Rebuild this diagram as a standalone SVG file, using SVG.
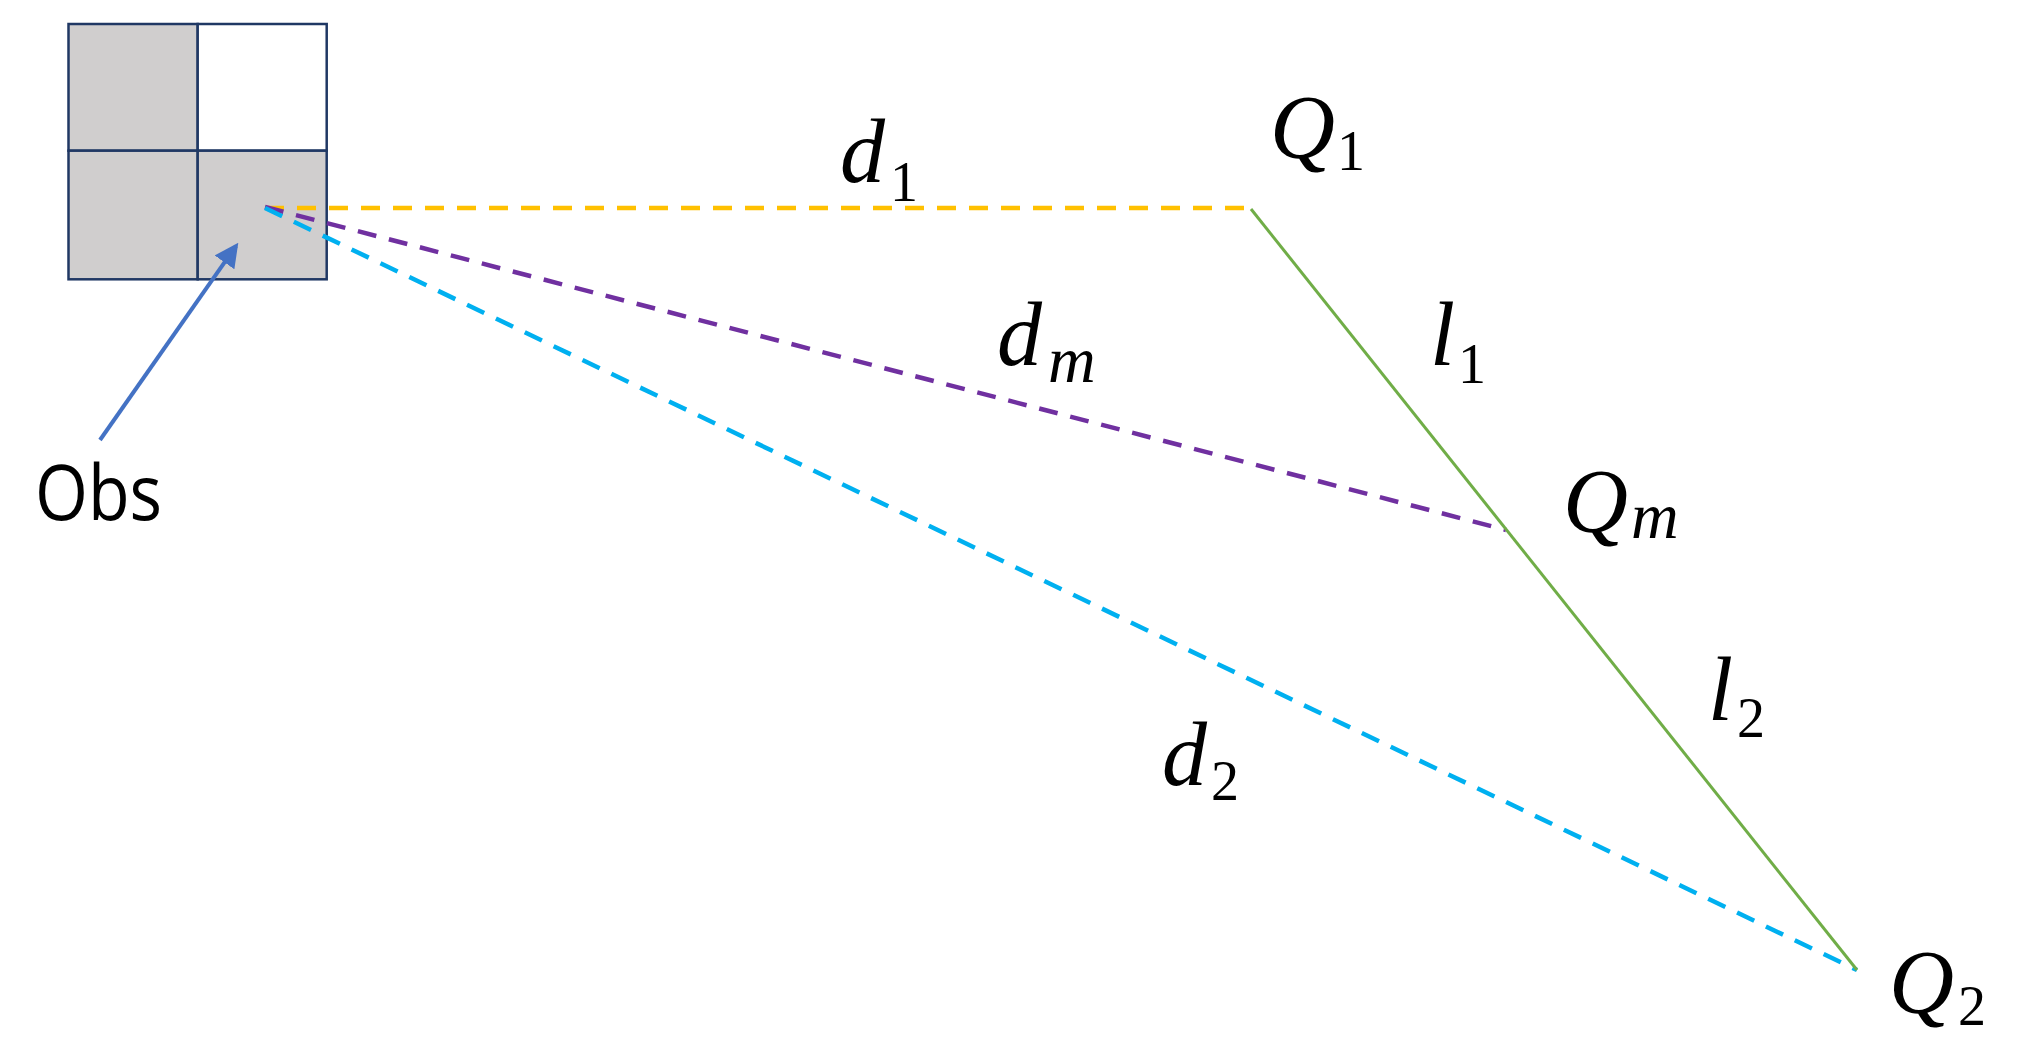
<svg xmlns="http://www.w3.org/2000/svg" width="2028" height="1048" viewBox="0 0 2028 1048">
<style>
.cell{fill:#D0CECE;stroke:#203864;stroke-width:2.5}
.white{fill:#FFFFFF}
.dash{fill:none;stroke-width:4.5;stroke-dasharray:19 13}
.m{font-family:"Liberation Serif","DejaVu Serif",serif;font-style:italic;font-size:90px;fill:#000}
.s{font-style:normal;font-size:56px}
.si{font-style:italic;font-size:66px}
</style>
<defs>
<marker id="ah" markerWidth="6" markerHeight="6" refX="5" refY="3" orient="auto" markerUnits="strokeWidth">
<path d="M0,0 L6,3 L0,6 Z" fill="#4472C4"/>
</marker>
</defs>
<rect width="2028" height="1048" fill="#FFFFFF"/>
<g id="grid">
<rect class="cell" x="68.5" y="24" width="129.2" height="126.7"/>
<rect class="cell white" x="197.7" y="24" width="129" height="126.7"/>
<rect class="cell" x="68.5" y="150.7" width="129.2" height="128.6"/>
<rect class="cell" x="197.7" y="150.7" width="129" height="128.6"/>
</g>
<g id="connectors">
<line class="dash" x1="265" y1="208" x2="1251" y2="208" stroke="#FFC000"/>
<line class="dash" x1="265" y1="207" x2="1506" y2="530" stroke="#7030A0"/>
<line class="dash" x1="265" y1="208" x2="1857" y2="970" stroke="#00B0F0"/>
<line x1="1251" y1="209" x2="1857" y2="970" stroke="#70AD47" stroke-width="3"/>
<line x1="100" y1="440" x2="236" y2="246" stroke="#4472C4" stroke-width="4" marker-end="url(#ah)"/>
</g>
<g id="obs"><text x="35" y="520" font-family="'Open Sans','Noto Sans',sans-serif" font-size="76" textLength="127" lengthAdjust="spacingAndGlyphs" fill="#000">Obs</text></g>
<g id="d1"><text class="m" x="840" y="182">d<tspan class="s" dx="5" dy="19">1</tspan></text></g>
<g id="Q1"><text class="m" x="1270" y="158">Q<tspan class="s" dx="2" dy="12">1</tspan></text></g>
<g id="dm"><text class="m" x="997" y="365">d<tspan class="si" dx="6" dy="17">m</tspan></text></g>
<g id="l1"><text class="m" x="1430" y="365">l<tspan class="s" dx="3" dy="18">1</tspan></text></g>
<g id="Qm"><text class="m" x="1563" y="532">Q<tspan class="si" dx="3" dy="6">m</tspan></text></g>
<g id="l2"><text class="m" x="1708" y="720">l<tspan class="s" dx="4" dy="17">2</tspan></text></g>
<g id="d2"><text class="m" x="1162" y="785">d<tspan class="s" dx="4" dy="15">2</tspan></text></g>
<g id="Q2"><text class="m" x="1889" y="1013">Q<tspan class="s" dx="4" dy="12">2</tspan></text></g>
</svg>
